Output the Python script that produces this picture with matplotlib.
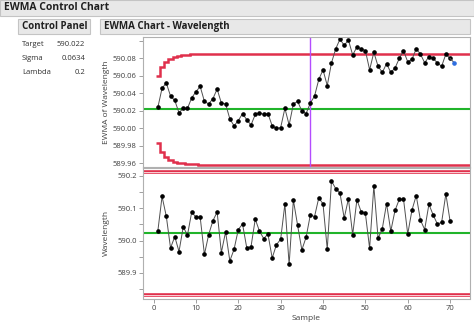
import matplotlib.pyplot as plt
import numpy as np
from matplotlib.patches import Rectangle

# control panel values
target = 590.022
sigma = 0.0634
lam = 0.2

sample = np.arange(1, 71)
wavelength = [590.029, 590.136, 590.075, 589.977, 590.012, 589.966, 590.042, 590.017, 590.088, 590.072,
              590.072, 589.957, 590.018, 590.061, 590.088, 589.963, 590.027, 589.937, 589.973, 590.034,
              590.051, 589.977, 589.981, 590.066, 590.029, 590.006, 590.020, 589.946, 589.987, 590.004,
              590.113, 589.926, 590.125, 590.047, 589.971, 590.010, 590.079, 590.074, 590.132, 590.113,
              589.973, 590.184, 590.160, 590.147, 590.069, 590.129, 590.018, 590.126, 590.089, 590.084,
              589.976, 590.169, 590.007, 590.037, 590.114, 590.029, 590.093, 590.127, 590.128, 590.020,
              590.094, 590.139, 590.063, 590.034, 590.112, 590.079, 590.051, 590.056, 590.144, 590.060]
ewma = [590.024, 590.046, 590.052, 590.037, 590.032, 590.018, 590.023, 590.023, 590.035, 590.042,
        590.048, 590.031, 590.028, 590.034, 590.045, 590.029, 590.028, 590.011, 590.003, 590.009,
        590.017, 590.010, 590.004, 590.016, 590.018, 590.016, 590.017, 590.003, 590.000, 590.001,
        590.023, 590.004, 590.028, 590.031, 590.020, 590.017, 590.029, 590.037, 590.056, 590.067,
        590.049, 590.075, 590.091, 590.102, 590.095, 590.101, 590.084, 590.093, 590.091, 590.089,
        590.067, 590.087, 590.071, 590.064, 590.074, 590.064, 590.069, 590.080, 590.089, 590.076,
        590.079, 590.091, 590.085, 590.075, 590.082, 590.080, 590.075, 590.071, 590.085, 590.080]
ewma_next = 590.075   # forecast point (blue)
shift_sample = 37

RED = '#e0304c'
GREEN = '#20b42a'
PURPLE = '#b44cff'

plt.rcParams['font.family'] = ['Open Sans', 'DejaVu Sans']
fig = plt.figure(figsize=(4.74, 3.27), dpi=100)
W, H = 474, 327


def px_rect(x, y, w, h):
    return [x / W, 1 - (y + h) / H, w / W, h / H]


def title_bar(x, y, w, h, text, size):
    r = px_rect(x, y, w, h)
    fig.patches.append(Rectangle((r[0], r[1]), r[2], r[3], transform=fig.transFigure,
                                 facecolor='#e8e8e8', edgecolor='#c4c4c4', lw=0.8))
    fig.text((x + 4) / W, 1 - (y + h / 2) / H, text, fontsize=size, fontweight='bold',
             va='center', ha='left', color='#202020')


title_bar(0, 0, 474, 16, 'EWMA Control Chart', 7.5)
title_bar(18, 19, 72, 15, 'Control Panel', 7)
title_bar(100, 19, 370, 15, 'EWMA Chart - Wavelength', 7)

for i, (name, val) in enumerate([('Target', '590.022'), ('Sigma', '0.0634'), ('Lambda', '0.2')]):
    yy = 1 - (44 + 14 * i) / H
    fig.text(22 / W, yy, name, fontsize=5.5, va='center', color='#303030')
    fig.text(85 / W, yy, val, fontsize=5.5, va='center', ha='right', color='#303030')

# control limits from target, sigma and lambda
k = np.arange(1, 80)
half = 3 * sigma * np.sqrt(lam / (2 - lam) * (1 - (1 - lam) ** (2 * k)))
edges = np.arange(0.5, len(k) + 1.5)


def style(ax):
    for s in ax.spines.values():
        s.set_color('#b0b0b0')
        s.set_linewidth(0.8)
    ax.tick_params(labelsize=5.5, length=3, width=0.6, color='#909090', labelcolor='#404040', pad=1.5)
    ax.set_xlim(-2.5, 74.7)


# EWMA panel
ax1 = fig.add_axes(px_rect(143, 37, 327, 130))
style(ax1)
ax1.set_ylim(589.956, 590.1045)
ax1.stairs(target + half, edges, baseline=None, color=RED, lw=1.8)
ax1.stairs(target - half, edges, baseline=None, color=RED, lw=1.8)
ax1.axhline(target, color=GREEN, lw=1.5)
ax1.axvline(shift_sample, color=PURPLE, lw=1)
ax1.plot(sample, ewma, color='#505050', lw=0.7, marker='o', ms=2.3, mfc='black', mec='black')
ax1.plot([sample[-1], sample[-1] + 1], [ewma[-1], ewma_next], color='#505050', lw=0.7)
ax1.plot([sample[-1] + 1], [ewma_next], 'o', ms=2.3, color='#2f6fe0')
ax1.set_yticks([589.96, 589.98, 590.00, 590.02, 590.04, 590.06, 590.08])
ax1.set_yticklabels(['589.96', '589.98', '590.00', '590.02', '590.04', '590.06', '590.08'])
ax1.set_yticks([590.10], minor=True)
ax1.tick_params(axis='y', which='minor', length=3, width=0.6, color='#909090')
ax1.set_xticks([])
ax1.set_ylabel('EWMA of Wavelength', fontsize=6, color='#404040')
ax1.yaxis.set_label_coords(-0.102, 0.5)

# individual values panel
ax2 = fig.add_axes(px_rect(143, 168, 327, 130.5))
style(ax2)
ax2.set_ylim(589.821, 590.224)
for lim in (target + 3 * sigma, target - 3 * sigma):
    ax2.axhline(lim, color=RED, lw=2.6)
    ax2.axhline(lim, color='#f8d0d6', lw=0.7)
ax2.axhline(target, color=GREEN, lw=1.5)
ax2.plot(sample, wavelength, color='#505050', lw=0.7, marker='o', ms=2.3, mfc='black', mec='black')
ax2.set_yticks([589.9, 590.0, 590.1, 590.2])
ax2.set_yticklabels(['589.9', '590.0', '590.1', '590.2'])
ax2.set_yticks([589.85, 589.95, 590.05, 590.15], minor=True)
ax2.tick_params(axis='y', which='minor', length=3, width=0.6, color='#909090')
ax2.set_xticks(range(0, 71, 10))
ax2.set_ylabel('Wavelength', fontsize=6, color='#404040')
ax2.yaxis.set_label_coords(-0.102, 0.5)
ax2.set_xlabel('Sample', fontsize=6, color='#404040', labelpad=2)

fig.savefig('out.png', dpi=100)
